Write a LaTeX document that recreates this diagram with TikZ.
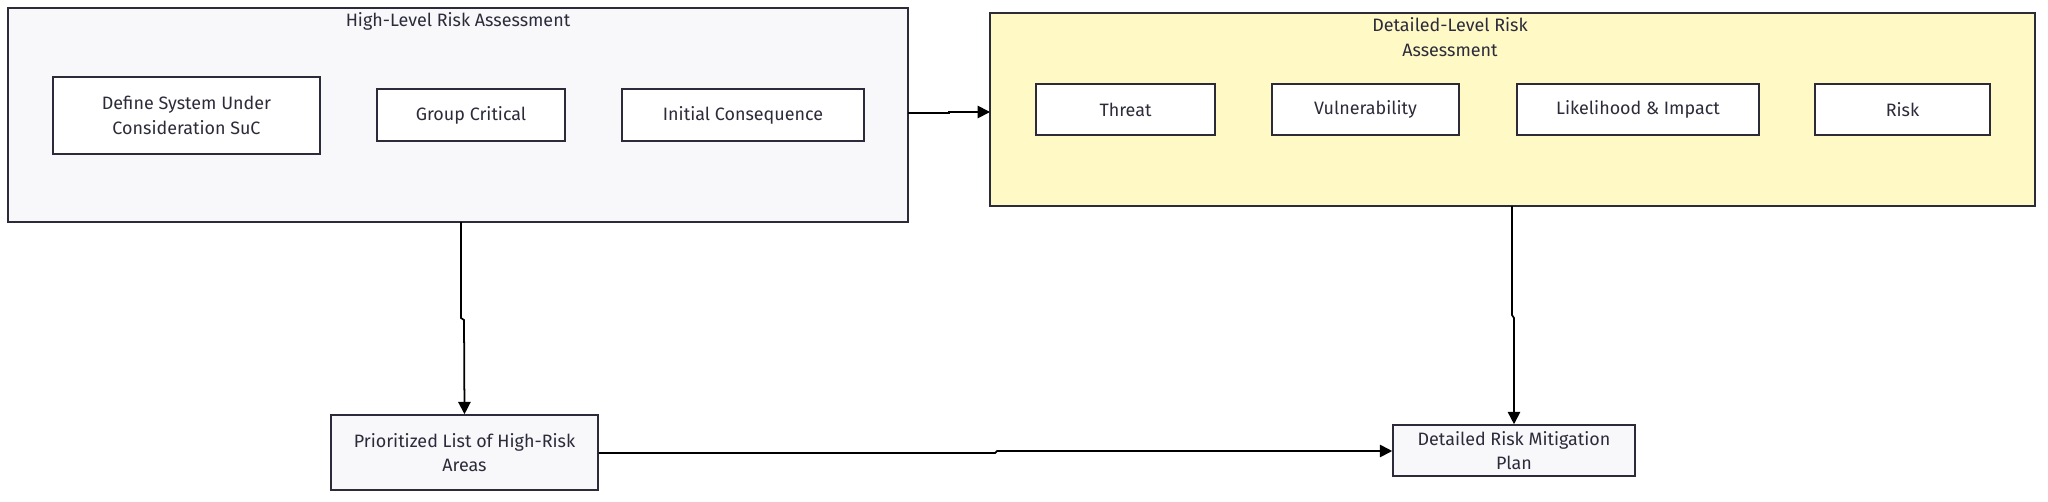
\documentclass[tikz,border=0pt]{standalone}
\usepackage{fontspec}
\setmainfont{Fira Sans}
\usetikzlibrary{arrows.meta}
\definecolor{grp}{HTML}{F8F8FB}
\definecolor{yel}{HTML}{FFF9C6}
\definecolor{ln}{HTML}{2B2B3A}
\begin{document}
\begin{tikzpicture}[x=0.02cm,y=-0.02cm,
  every node/.style={font=\fontsize{10.2}{14}\selectfont,text=ln},
  grpbox/.style={draw=ln,line width=0.9pt,fill=grp},
  ybox/.style={draw=ln,line width=0.9pt,fill=yel},
  item/.style={draw=ln,line width=0.9pt,fill=white,align=center},
  conn/.style={line width=1pt,black,-{Triangle[length=7pt,width=7pt]}}]
\useasboundingbox (0,0) rectangle (2048,501);
\draw[grpbox] (8,8) rectangle (908,222);
\node (hl) at (458,21) {High-Level Risk Assessment};
\coordinate (h1) at (908,113);
\coordinate (h2) at (461,222);
\draw[ybox] (990,13) rectangle (2035,206);
\node[align=center] (dl) at (1450,37) {Detailed-Level Risk\\Assessment};
\coordinate (d1) at (990,113);
\coordinate (d2) at (1512,206);
\node[item,minimum width=267*0.02cm,minimum height=77*0.02cm] (a) at (186.5,115.5) {Define System Under\\Consideration SuC};
\node[item,minimum width=188*0.02cm,minimum height=52*0.02cm] (b) at (471,115) {Group Critical};
\node[item,minimum width=242*0.02cm,minimum height=52*0.02cm] (c) at (743,115) {Initial Consequence};
\node[item,minimum width=179*0.02cm,minimum height=51*0.02cm] (t) at (1125.5,109.5) {Threat};
\node[item,minimum width=187*0.02cm,minimum height=51*0.02cm] (v) at (1365.5,109.5) {Vulnerability};
\node[item,minimum width=242*0.02cm,minimum height=51*0.02cm] (l) at (1638,109.5) {Likelihood \& Impact};
\node[item,minimum width=175*0.02cm,minimum height=51*0.02cm] (r) at (1902.5,109.5) {Risk};
\node[item,fill=grp,minimum width=267*0.02cm,minimum height=75*0.02cm] (p) at (464.5,452.5) {Prioritized List of High-Risk\\Areas};
\node[item,fill=grp,minimum width=242*0.02cm,minimum height=51*0.02cm] (m) at (1514,450.5) {Detailed Risk Mitigation\\Plan};
\draw[conn] (h1) -- (949,113) -- (949,112) -- (d1|-0,112);
\draw[conn] (h2) -- (461,318) -- (464,320) -- (p.north);
\draw[conn] (d2) -- (1512,315) -- (1514,318) -- (m.north);
\draw[conn] (p.east|-0,453) -- (995,453) -- (997,451) -- (m.west|-0,451);
\end{tikzpicture}
\end{document}
